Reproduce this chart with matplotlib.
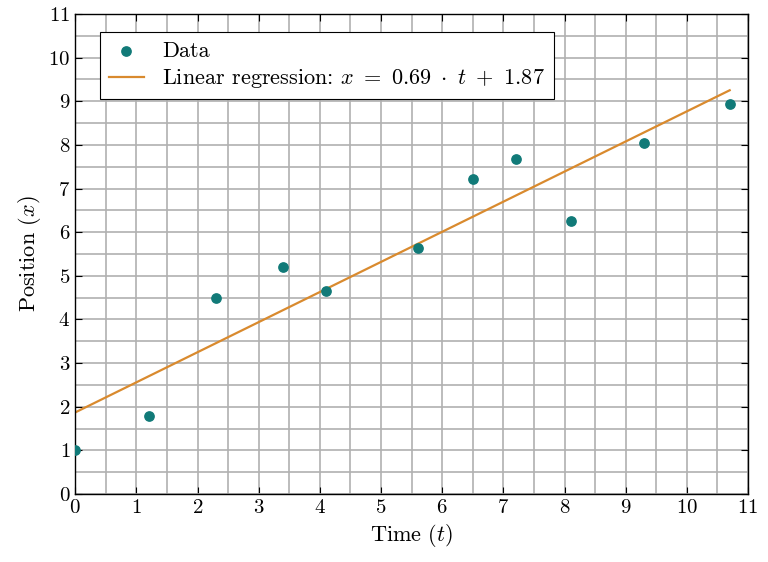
import matplotlib
matplotlib.use("Agg")
import matplotlib.pyplot as plt
import numpy as np

plt.rcParams['font.family'] = 'serif'
plt.rcParams['font.serif'] = ['cmr10', 'DejaVu Serif']
plt.rcParams['mathtext.fontset'] = 'cm'
plt.rcParams['axes.formatter.use_mathtext'] = True

tiempo = [0.0, 1.2, 2.3, 3.4, 4.1, 5.6, 6.5, 7.2, 8.1, 9.3, 10.7]
posicion = [1.0, 1.79, 4.5, 5.2, 4.66, 5.64, 7.22, 7.68, 6.26, 8.05, 8.94]
pendiente = 0.69
intercepto = 1.87

fig = plt.figure(figsize=(7.68, 5.62), dpi=100)
ax = fig.add_axes([0.098, 0.121, 0.876, 0.854])

ax.set_xticks(np.arange(0, 12, 1))
ax.set_yticks(np.arange(0, 12, 1))
ax.set_xticks(np.arange(0.5, 11, 1), minor=True)
ax.set_yticks(np.arange(0.5, 11, 1), minor=True)
ax.grid(True, which='both', color='#b0b0b0', linewidth=1.2)
ax.set_axisbelow(True)
ax.tick_params(direction='in', top=True, right=True, labelsize=15, length=5)
ax.tick_params(which='minor', length=0)

t_linea = np.array([tiempo[0], tiempo[-1]])
ax.scatter(tiempo, posicion, color='#117a78', s=45, zorder=3, label='Data')
ax.plot(t_linea, pendiente * t_linea + intercepto, color='#d98a2e', linewidth=1.6,
        label=r'Linear regression: $x\ =\ 0.69\ \cdot\ t\ +\ 1.87$')

ax.set_xlim(0, 11)
ax.set_ylim(0, 11)
ax.set_xlabel(r'Time ($t$)', fontsize=16)
ax.set_ylabel(r'Position ($x$)', fontsize=16)
for s in ax.spines.values():
    s.set_linewidth(1.0)

leg = ax.legend(loc='upper left', fontsize=16, fancybox=False, framealpha=1,
                edgecolor='black', borderpad=0.4, handlelength=1.6,
                bbox_to_anchor=(0.02, 0.985), labelspacing=0.3)
leg.get_frame().set_linewidth(0.8)

fig.savefig('out.png', dpi=100)
